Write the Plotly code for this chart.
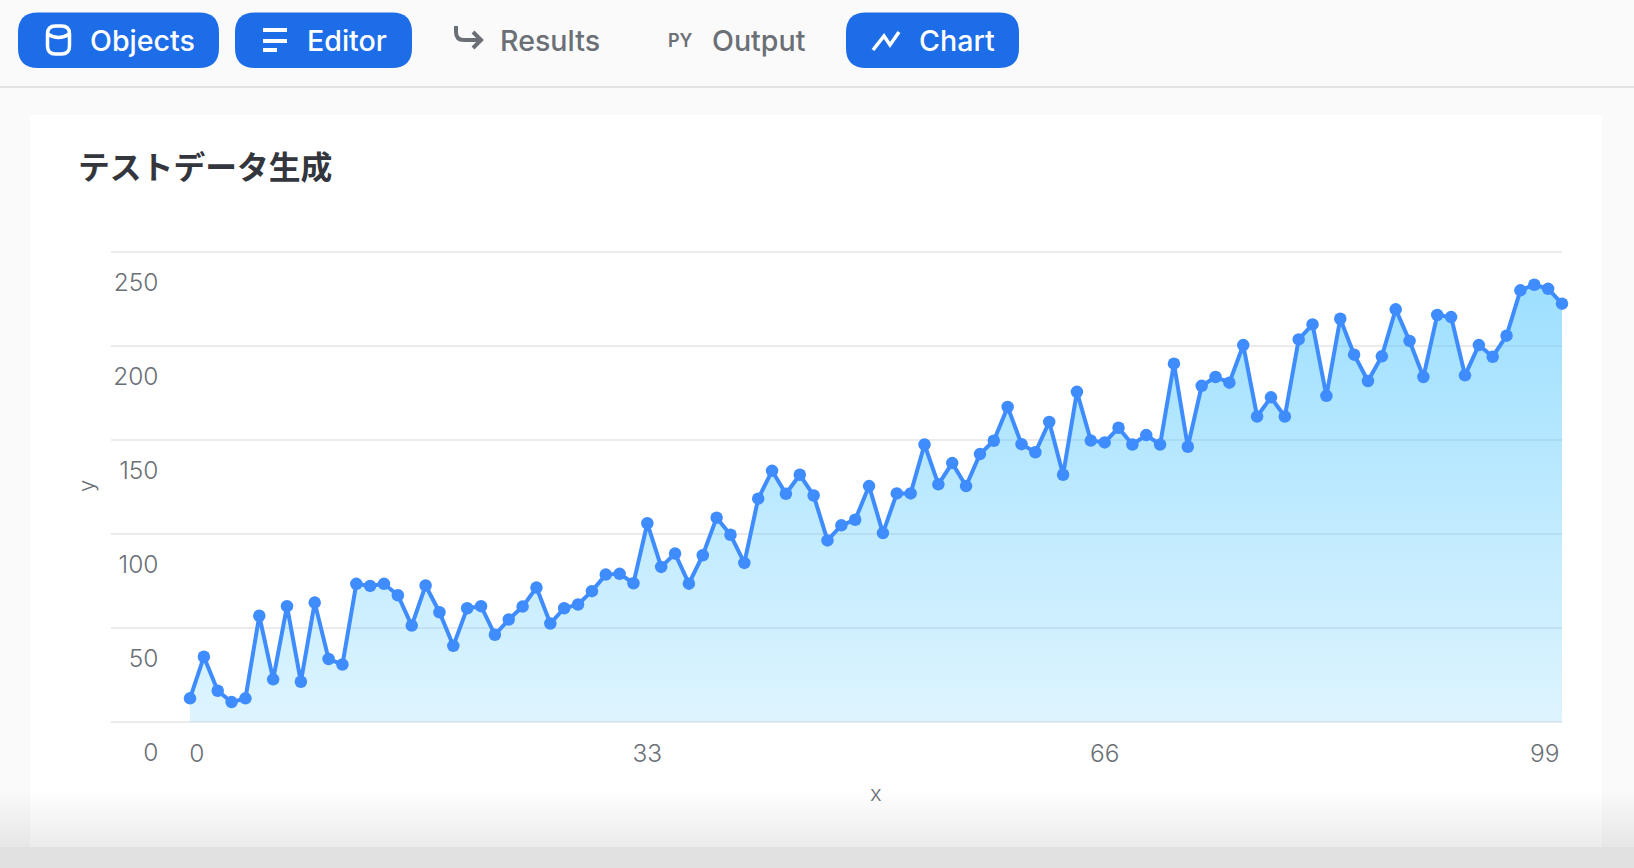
import plotly.graph_objects as go

W = 1634
H = 868

# values
y_vals = [12.6, 34.7, 16.6, 10.6, 12.6, 56.5, 22.7, 61.6, 21.4, 63.5,
          33.5, 30.6, 73.5, 72.4, 73.5, 67.4, 51.3, 72.6, 58.4, 40.5,
          60.5, 61.6, 46.4, 54.5, 61.4, 71.5, 52.4, 60.5, 62.5, 69.6,
          78.4, 78.8, 73.8, 105.7, 82.5, 89.6, 73.6, 88.7, 108.7, 99.6,
          84.6, 118.8, 133.6, 121.4, 131.5, 120.5, 96.6, 104.6, 107.6, 125.5,
          100.5, 121.6, 121.6, 147.6, 126.4, 137.7, 125.5, 142.5, 149.6, 167.6,
          147.8, 143.5, 159.6, 131.5, 175.6, 149.7, 148.7, 156.5, 147.6, 152.6,
          147.6, 190.6, 146.4, 178.8, 183.5, 180.5, 200.5, 162.5, 172.7, 162.5,
          203.5, 211.5, 173.5, 214.5, 195.4, 181.4, 194.5, 219.5, 202.7, 183.5,
          216.5, 215.4, 184.4, 200.5, 194.3, 205.5, 229.6, 232.6, 230.4, 222.5]
x_vals = list(range(len(y_vals)))

x_ticks = [0, 33, 66, 99]
x_labels = ['\u00a0\u00a00', '33', '66', '99\u00a0\u00a0\u00a0\u00a0\u00a0']
y_ticks = [0, 50, 100, 150, 200, 250]

tabs_on = [('Objects', 88, 18, 219), ('Editor', 305, 235, 412), ('Chart', 917, 846, 1019)]
tabs_off = [('Results', 498), ('Output', 710)]

BLUE = '#1d6ce8'
GREY = '#6b6f76'
LINE = '#3f8cff'

# plot box in page pixels, plotly drops grid lines closer than 1px to the box ends
pad = 1
px_per_unit = (722 - 252) / 250
left, right, top, bottom = 110.5, 1562, 252 - pad * px_per_unit, 722 + pad * px_per_unit
x_step = (right - 190) / 99
x_min = -(190 - left) / x_step


def fx(v):
    return v / W


def fy(v):
    return 1 - v / H


def path(points, close=False):
    s = ''
    for i, (a, b) in enumerate(points):
        s += f"{'M' if i == 0 else 'L'}{fx(a)},{fy(b)} "
    return s + ('Z' if close else '')


def pill(x0, x1, y0, y1, r):
    return (f'M{fx(x0 + r)},{fy(y0)} L{fx(x1 - r)},{fy(y0)} Q{fx(x1)},{fy(y0)} {fx(x1)},{fy(y0 + r)} '
            f'L{fx(x1)},{fy(y1 - r)} Q{fx(x1)},{fy(y1)} {fx(x1 - r)},{fy(y1)} '
            f'L{fx(x0 + r)},{fy(y1)} Q{fx(x0)},{fy(y1)} {fx(x0)},{fy(y1 - r)} '
            f'L{fx(x0)},{fy(y0 + r)} Q{fx(x0)},{fy(y0)} {fx(x0 + r)},{fy(y0)} Z')


def rect(x0, x1, y0, y1, color, layer='below'):
    return dict(type='rect', xref='paper', yref='paper', x0=fx(x0), x1=fx(x1), y0=fy(y0), y1=fy(y1),
                fillcolor=color, line_width=0, layer=layer)


def stroke(d, color, width):
    return dict(type='path', xref='paper', yref='paper', path=d, layer='above',
                line=dict(color=color, width=width))


shapes = [
    rect(0, W, 86, 88, '#e3e3e3'),
    rect(30, 1602, 115, 847, '#ffffff'),
]
for name, tx, x0, x1 in tabs_on:
    shapes.append(dict(type='path', xref='paper', yref='paper', path=pill(x0, x1, 12.5, 68, 20),
                       fillcolor=BLUE, line_width=0, layer='below'))

# database icon
shapes.append(stroke(pill(47.5, 69.5, 26, 54, 8), 'white', 3.5))
shapes.append(stroke(f'M{fx(47.5)},{fy(34)} Q{fx(58.5)},{fy(41)} {fx(69.5)},{fy(34)}', 'white', 3.5))
# editor icon
shapes.append(rect(263, 287, 28, 32, 'white', 'above'))
shapes.append(rect(263, 287, 39, 43, 'white', 'above'))
shapes.append(rect(263, 277, 48, 52, 'white', 'above'))
# results arrow
shapes.append(stroke(f'M{fx(456)},{fy(26)} L{fx(456)},{fy(32)} Q{fx(456)},{fy(40)} {fx(464)},{fy(40)} L{fx(480)},{fy(40)}',
                     GREY, 4))
shapes.append(stroke(path([(473, 32), (481, 40), (473, 48)]), GREY, 4))
# chart icon
shapes.append(stroke(path([(873, 50), (884, 36), (890, 45), (899, 32)]), 'white', 3.5))

# page darkens towards the bottom edge
fade_from, fade_to = 790, 847
n_fade = 19
for i in range(n_fade):
    y0 = fade_from + i * (fade_to - fade_from) / n_fade
    shapes.append(rect(0, W, y0, H, 'rgba(0,0,0,0.0032)', 'above'))
shapes.append(rect(0, W, 847, H, 'rgba(0,0,0,0.024)', 'above'))

annotations = []


def label(text, x, y, size, color, weight=400, anchor='left', family='Inter', angle=0, xref='paper'):
    annotations.append(dict(text=text, x=x if xref != 'paper' else fx(x), y=fy(y), xref=xref, yref='paper',
                            xanchor=anchor, yanchor='middle', showarrow=False, textangle=angle,
                            font=dict(family=family, size=size, color=color, weight=weight)))


for name, tx, x0, x1 in tabs_on:
    label(name, tx, 40, 28.6, 'white', 500)
for name, tx in tabs_off:
    label(name, tx, 40, 28.6, GREY, 500)
label('PY', 666, 41, 18, GREY, 600)
label('x', 49.5, 793, 22, GREY, 300, 'center', xref='x')
label('y', 86, 486, 22, GREY, 300, 'center', angle=-90)

fig = go.Figure()
fig.add_trace(go.Scatter(
    x=x_vals, y=y_vals, mode='lines+markers', fill='tozeroy',
    fillgradient=dict(type='vertical', start=0, stop=250,
                      colorscale=[[0, 'rgba(70,195,255,0.18)'], [1, 'rgba(70,195,255,0.55)']]),
    line=dict(color=LINE, width=4),
    marker=dict(color=LINE, size=12.5),
    cliponaxis=False, showlegend=False, hoverinfo='skip'))

fig.update_layout(
    width=W, height=H, autosize=False,
    margin=dict(l=0, r=0, t=0, b=0),
    paper_bgcolor='#fafafa', plot_bgcolor='rgba(0,0,0,0)',
    shapes=shapes, annotations=annotations, showlegend=False,
    title=dict(text='テストデータ生成', xref='paper', yref='paper', x=fx(78), y=fy(168),
               xanchor='left', yanchor='middle',
               font=dict(family='Noto Sans CJK JP', size=31.8, color='#33363c', weight=700)),
)
fig.update_xaxes(domain=[fx(left), fx(right)], range=[x_min, 99], showgrid=False, zeroline=False,
                 showline=False, ticks='', tickmode='array', tickvals=x_ticks, ticktext=x_labels,
                 ticklabelstandoff=13, automargin=False,
                 tickfont=dict(family='Inter', size=24.5, color=GREY, weight=300))
fig.update_yaxes(domain=[fy(bottom), fy(top)], range=[-pad, 250 + pad], showgrid=True, gridcolor='#ebebeb',
                 gridwidth=1.5, zeroline=False, showline=False, ticks='', tickmode='array',
                 tickvals=y_ticks, ticklabelshift=30, ticklabelstandoff=-49, automargin=False,
                 tickfont=dict(family='Inter', size=24.5, color=GREY, weight=300))

fig.write_html('out.html', config={'displayModeBar': False},
               post_script="document.body.style.margin='0';document.body.style.overflow='hidden';")
